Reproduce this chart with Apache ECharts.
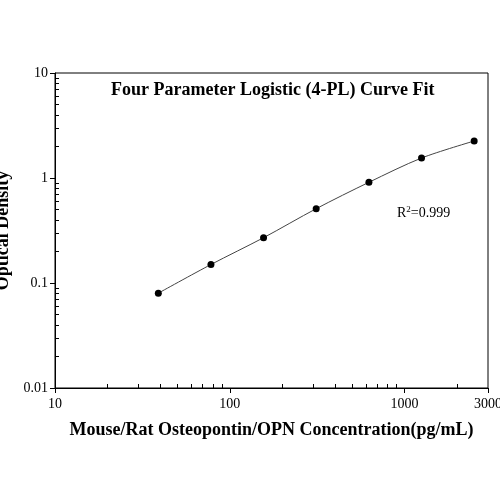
<!DOCTYPE html>
<html><head><meta charset="utf-8">
<script src="https://cdn.jsdelivr.net/npm/echarts@6/dist/echarts.min.js"></script>
<style>html,body{margin:0;background:#fff}#c{width:500px;height:500px}</style>
</head><body><div id="c"></div>
<script>
var concentrations = [39, 78, 156, 312, 625, 1250, 2500];
var densities = [0.080, 0.15, 0.27, 0.51, 0.91, 1.55, 2.25];
var titleText = 'Four Parameter Logistic (4-PL) Curve Fit';
var xName = 'Mouse/Rat Osteopontin/OPN Concentration(pg/mL)';
var yName = 'Optical Density';

var points = concentrations.map(function (c, i) { return [c, densities[i]]; });
var font = 'Liberation Serif';

var chart = echarts.init(document.getElementById('c'));
chart.setOption({
    animation: false,
    title: {
        text: titleText, left: 106, top: 76,
        textStyle: {fontFamily: font, fontWeight: 'bold', fontSize: 18, color: '#000'}
    },
    grid: {left: 55, right: 12, top: 73, bottom: 112, outerBoundsMode: 'none', containLabel: false,
        show: true, borderColor: '#000', borderWidth: 1},
    xAxis: {
        type: 'log', min: 10, max: 3000, logBase: 10,
        name: xName, nameLocation: 'middle', nameGap: 33,
        nameTextStyle: {fontFamily: font, fontWeight: 'bold', fontSize: 18, color: '#000'},
        axisLine: {lineStyle: {color: '#000'}},
        axisTick: {length: 5, lineStyle: {color: '#000'}},
        minorTick: {show: true, splitNumber: 9, length: -4, lineStyle: {color: '#000'}},
        axisLabel: {fontFamily: font, fontSize: 14, color: '#000', margin: 9, showMaxLabel: true,
            formatter: function (v) { return String(Math.round(v)); }},
        splitLine: {show: false}
    },
    yAxis: {
        type: 'log', min: 0.01, max: 10, logBase: 10,
        name: yName, nameLocation: 'middle', nameGap: 36,
        nameTextStyle: {fontFamily: font, fontWeight: 'bold', fontSize: 18, color: '#000'},
        axisLine: {lineStyle: {color: '#000'}},
        axisTick: {length: 5, lineStyle: {color: '#000'}},
        minorTick: {show: true, splitNumber: 9, length: -4, lineStyle: {color: '#000'}},
        axisLabel: {fontFamily: font, fontSize: 14, color: '#000', margin: 7,
            formatter: function (v) { return String(+v.toPrecision(1)); }},
        splitLine: {show: false}
    },
    series: [{
        type: 'line', data: points, smooth: 0.3,
        symbol: 'circle', symbolSize: 7,
        itemStyle: {color: '#000'},
        lineStyle: {color: '#444', width: 1}
    }],
    graphic: [{
        type: 'text', left: 397, top: 205,
        style: {rich: {
            a: {fontFamily: font, fontSize: 14, fill: '#000'},
            s: {fontFamily: font, fontSize: 9, fill: '#000', verticalAlign: 'top', padding: [0, 0, 8, 0]}
        }, text: '{a|R}{s|2}{a|=0.999}'}
    }]
});
</script></body></html>
